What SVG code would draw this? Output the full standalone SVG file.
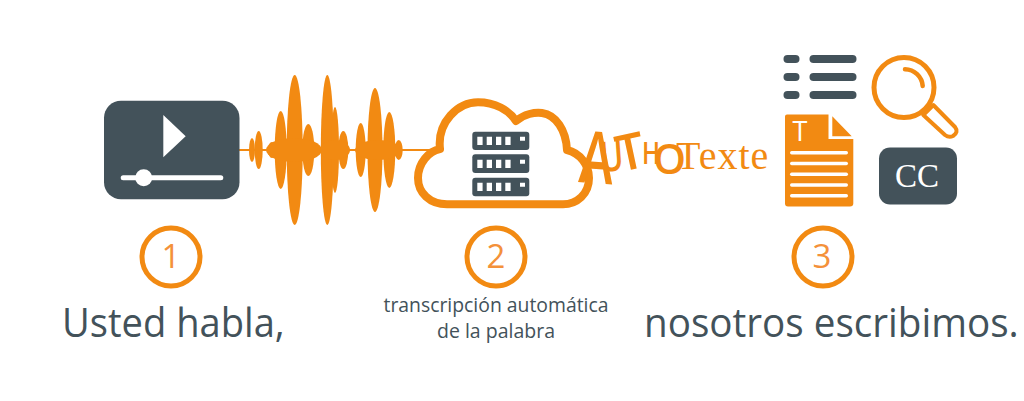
<svg xmlns="http://www.w3.org/2000/svg" width="1024" height="401" viewBox="0 0 1024 401">
<style>
.o{fill:#f28a12}.d{fill:#43525a}.w{fill:#fff}
.ring{fill:none;stroke:#f28a12;stroke-width:5}
.num{font:33px "Open Sans","Noto Sans",sans-serif;fill:#f4913a;text-anchor:middle}
.big{font:41px "Open Sans","Noto Sans",sans-serif;fill:#43525a}
.small{font:20px "Open Sans","Noto Sans",sans-serif;fill:#43525a;text-anchor:middle}
.logo{font-family:"Liberation Serif",serif;fill:#f28a12}
.sw{font-family:"Open Sans",sans-serif;font-weight:600;fill:#f28a12}
</style>
<rect width="1024" height="401" fill="#fff"/>
<g id="connectors"><path d="M239 150H440" stroke="#f28a12" stroke-width="2" fill="none"/></g>
<g id="waveform" class="o">
<ellipse cx="252" cy="150" rx="3" ry="12"/><ellipse cx="258.700" cy="150" rx="4" ry="19"/><ellipse cx="272" cy="150" rx="4" ry="8"/>
<ellipse cx="280.700" cy="150" rx="6" ry="39"/><ellipse cx="294.700" cy="150" rx="8" ry="75"/><ellipse cx="308.300" cy="150" rx="6" ry="26"/>
<ellipse cx="294" cy="150" rx="28" ry="12"/><ellipse cx="327.300" cy="150" rx="6.500" ry="75"/><ellipse cx="335" cy="150" rx="4" ry="43"/>
<ellipse cx="343.300" cy="150" rx="5" ry="19"/><ellipse cx="335" cy="150" rx="15" ry="10"/><ellipse cx="360.700" cy="150" rx="5" ry="27"/>
<ellipse cx="375" cy="150" rx="7.500" ry="62"/><ellipse cx="389.300" cy="150" rx="6" ry="38"/><ellipse cx="398.700" cy="150" rx="4" ry="10"/>
<ellipse cx="378" cy="150" rx="23" ry="10"/>
</g>
<g id="video">
<rect class="d" x="104" y="100.700" width="135.500" height="98.600" rx="17"/>
<path class="w" d="M163.300 115L185.700 136.200L163.300 157.300Z"/>
<rect class="w" x="120.700" y="175.200" width="102.600" height="5" rx="2.500"/>
<circle class="w" cx="143.700" cy="177.700" r="8.500"/>
</g>
<g id="cloud">
<path d="M447 204.300C430 204.300 418 193 418 178C418 163 429 151 440 149C437 122 458 102.300 478 102.300C495 102.300 509 110 516 121C524 114 535 112 542 113C556 115 566 130 567 150C580 153 589 165 589 178C589 194 577 204.300 563 204.300Z" fill="#fff" stroke="#f28a12" stroke-width="8" stroke-linejoin="round"/>
<g class="d"><rect x="472.300" y="131.700" width="57" height="18.300" rx="3"/><rect x="472.300" y="154.300" width="57" height="18.700" rx="3"/><rect x="472.300" y="177.700" width="57" height="18.600" rx="3"/></g>
<g class="w"><path d="M477.300 136.700h5.300v8.300h-5.300zM486.700 136.700h5.300v8.300h-5.300zM496 136.700h5.300v8.300h-5.300zM505.300 136.700h5.300v8.300h-5.300zM520 136.700h5v4h-5z"/>
<path d="M477.300 159.700h5.300v8.300h-5.300zM486.700 159.700h5.300v8.300h-5.300zM496 159.700h5.300v8.300h-5.300zM505.300 159.700h5.300v8.300h-5.300zM520 159.700h5v4h-5z"/>
<path d="M477.300 182.700h5.300v8.300h-5.300zM486.700 182.700h5.300v8.300h-5.300zM496 182.700h5.300v8.300h-5.300zM505.300 182.700h5.300v8.300h-5.300zM520 182.700h5v4h-5z"/></g>
</g>
<g id="logo">
<text class="sw" transform="translate(578,182) rotate(4) scale(.72,1)" font-size="72">A</text>
<text class="sw" transform="translate(601,172) rotate(-4) scale(.75,1)" font-size="42">U</text>
<text class="sw" transform="translate(620,172) rotate(-12)" font-size="50">T</text>
<text class="sw" transform="translate(642,164) scale(.8,1)" font-size="30">H</text>
<text class="sw" transform="translate(653,174)" font-size="42">O</text>
<text class="logo" x="676" y="169" font-size="40" letter-spacing="1">Texte</text>
</g>
<g id="list" class="d">
<rect x="783.500" y="55" width="16" height="8" rx="4"/><rect x="809.500" y="55" width="47" height="8" rx="4"/>
<rect x="783.500" y="73" width="16" height="8" rx="4"/><rect x="809.500" y="73" width="47" height="8" rx="4"/>
<rect x="783.500" y="91" width="16" height="8" rx="4"/><rect x="809.500" y="91" width="47" height="8" rx="4"/>
</g>
<g id="document">
<path class="o" d="M787 114.500H828.500V139H853.300V203.500Q853.300 206.500 850 206.500H788Q785 206.500 785 203.500V116.500Q785 114.500 787 114.500ZM832.300 116.300L851.700 136.300H832.300Z"/>
<text x="800" y="141" font-family="'Open Sans',sans-serif" font-size="27" fill="#fff" text-anchor="middle">T</text>
<g class="w"><rect x="790" y="151" width="58" height="3.500" rx="1.700"/><rect x="790" y="161.700" width="58" height="3.500" rx="1.700"/><rect x="790" y="172.500" width="58" height="3.500" rx="1.700"/><rect x="790" y="183.200" width="58" height="3.500" rx="1.700"/><rect x="790" y="194" width="58" height="3.500" rx="1.700"/></g>
</g>
<g id="magnifier" fill="none" stroke="#f28a12">
<circle cx="904" cy="87.500" r="30" stroke-width="5"/>
<path d="M905 69.300A18 18 0 0 1 922.700 86" stroke-width="4.500" stroke-linecap="round"/>
<path d="M923.300 115L933.300 105L955 127Q959 132 953 136Q949 138 945 135Z" stroke-width="4" stroke-linejoin="round"/>
</g>
<g id="cc">
<rect class="d" x="879" y="147.500" width="78" height="57" rx="11"/>
<text x="917" y="187" font-family="'Liberation Serif',serif" font-size="33" fill="#fff" text-anchor="middle">CC</text>
</g>
<g id="step1"><circle class="ring" cx="171" cy="257" r="29"/><text class="num" x="171" y="268">1</text><text class="big" transform="translate(62,337) scale(.93,1)">Usted habla,</text></g>
<g id="step2"><circle class="ring" cx="496" cy="257" r="29"/><text class="num" x="496" y="268">2</text><text class="small" x="496" y="312" textLength="225" lengthAdjust="spacingAndGlyphs">transcripción automática</text><text class="small" x="496" y="338" textLength="118" lengthAdjust="spacingAndGlyphs">de la palabra</text></g>
<g id="step3"><circle class="ring" cx="823" cy="257" r="29"/><text class="num" x="822" y="268">3</text><text class="big" transform="translate(644,337) scale(.942,1)">nosotros escribimos.</text></g>
</svg>
